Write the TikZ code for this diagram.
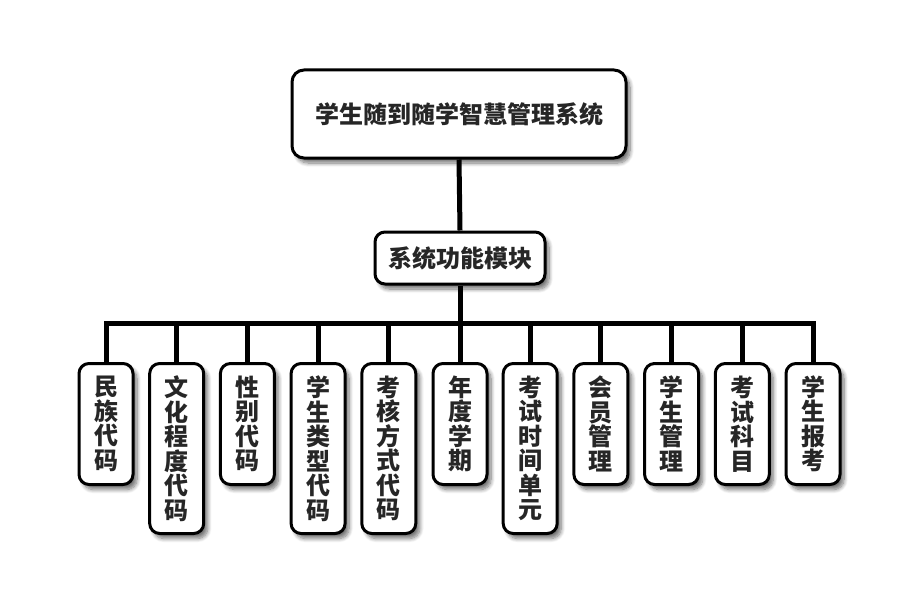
\documentclass[tikz,border=0pt]{standalone}
\usepackage{fontspec}
\newfontfamily\cjk{Noto Sans CJK SC}
\usetikzlibrary{shadows.blur}
\begin{document}
\begin{tikzpicture}[x=1pt,y=-1pt,
  boxstyle/.style={draw=black,line width=3pt,fill=white,text=black!85,
    font=\cjk\bfseries\fontsize{24}{24.5}\selectfont,align=center,inner sep=0pt,
    blur shadow={shadow xshift=4pt,shadow yshift=-5pt,shadow blur radius=4pt,shadow blur steps=8,shadow opacity=55}},
  leaf/.style={boxstyle,rounded corners=10pt,minimum width=54pt,anchor=north},
  shortleaf/.style={leaf,minimum height=121pt},
  longleaf/.style={leaf,minimum height=170pt},
  conn/.style={line width=5pt,draw=black,line join=miter}]
\useasboundingbox (0,0) rectangle (917,607);
\node[boxstyle,rounded corners=12pt,minimum width=334pt,minimum height=88pt] (top) at (459,114) {学生随到随学智慧管理系统};
\node[boxstyle,rounded corners=10pt,minimum width=170pt,minimum height=52pt] (mid) at (460,258) {系统功能模块};
\draw[conn] (top.south) -- (mid.north);
\draw[conn] (mid.south) -- (460,323) coordinate (bus);
\node[shortleaf] (l1) at (106,362) {民\\族\\代\\码};
\node[longleaf] (l2) at (176.7,362) {文\\化\\程\\度\\代\\码};
\node[shortleaf] (l3) at (247.4,362) {性\\别\\代\\码};
\node[longleaf] (l4) at (318.1,362) {学\\生\\类\\型\\代\\码};
\node[longleaf] (l5) at (388.8,362) {考\\核\\方\\式\\代\\码};
\node[shortleaf] (l6) at (460,362) {年\\度\\学\\期};
\node[longleaf] (l7) at (530.2,362) {考\\试\\时\\间\\单\\元};
\node[shortleaf] (l8) at (600.9,362) {会\\员\\管\\理};
\node[shortleaf] (l9) at (671.6,362) {学\\生\\管\\理};
\node[shortleaf] (l10) at (742.3,362) {考\\试\\科\\目};
\node[shortleaf] (l11) at (813,362) {学\\生\\报\\考};
\foreach \n in {l1,l2,l3,l4,l5,l6,l7,l8,l9,l10,l11}
  \draw[conn] (\n.north) |- (bus);
\end{tikzpicture}
\end{document}
